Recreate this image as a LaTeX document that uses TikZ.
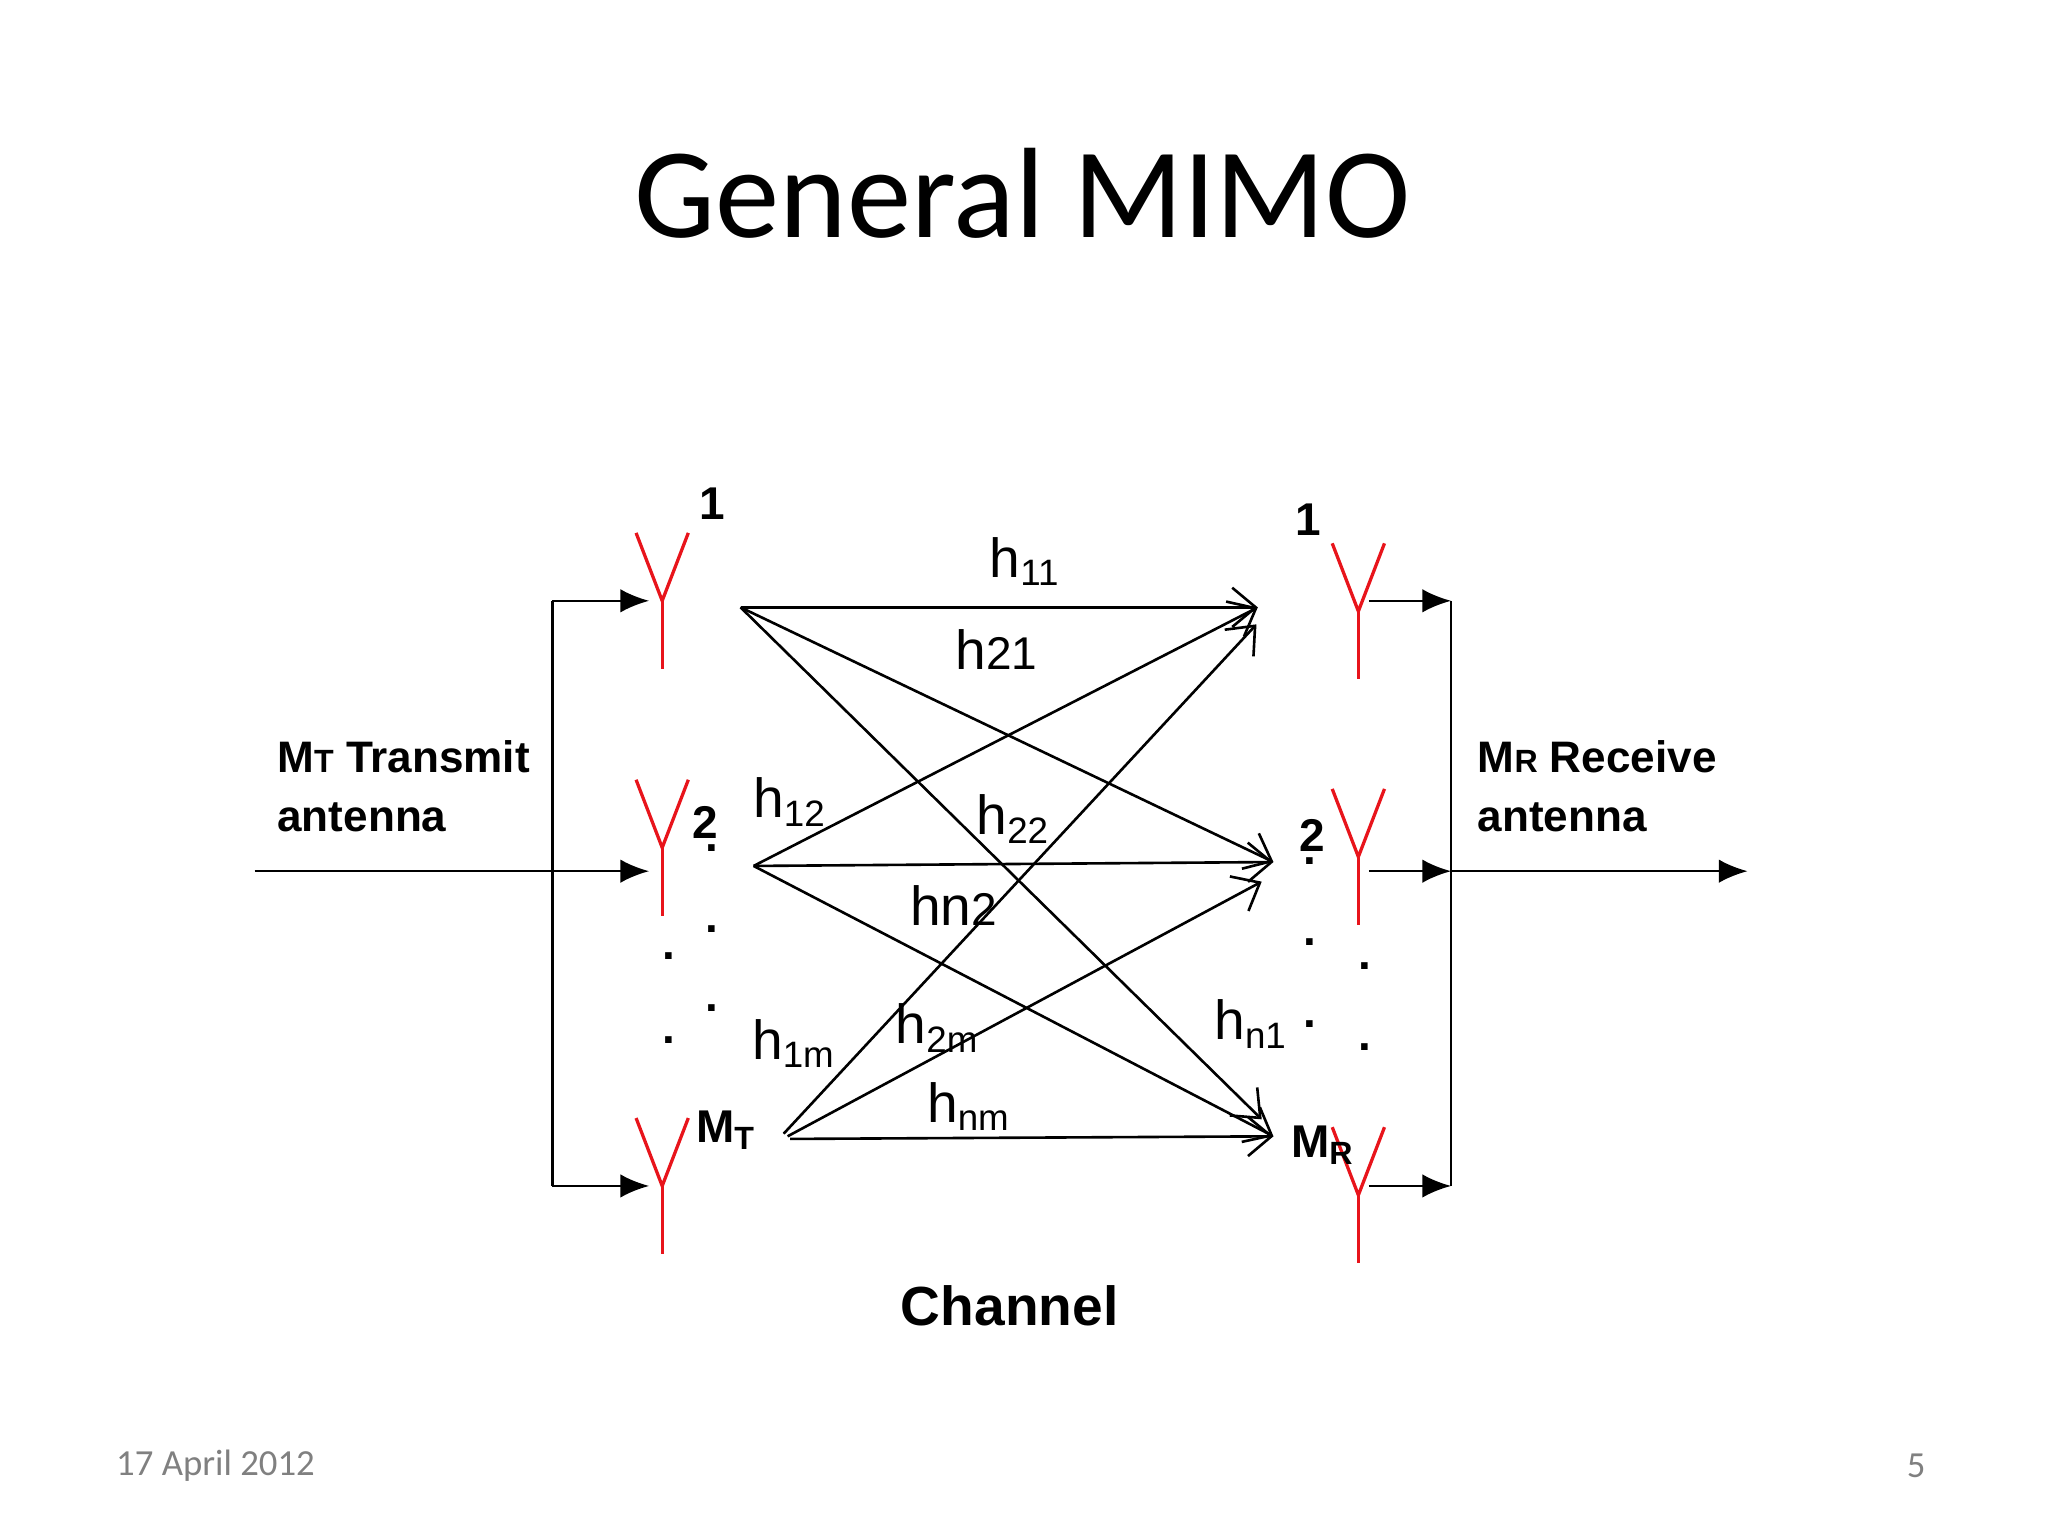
\documentclass[tikz,border=0pt]{standalone}
\usepackage{fontspec}
\setmainfont{Liberation Sans}
\newfontfamily\slidefont{Carlito}
\usetikzlibrary{arrows.meta}
\definecolor{AntRed}{HTML}{E8141B}
\tikzset{
  ant/.style={AntRed, line width=.25mm},
  feed/.style={-{Latex[length=2.2mm,width=1.8mm]}, line width=.2mm},
  chan/.style={-{Straight Barb[length=1.8mm,width=3mm]}, line width=.2mm},
  hlab/.style={font=\fontsize{12}{14}\selectfont},
  blab/.style={font=\bfseries\fontsize{9.6}{13}\selectfont, align=left},
  dot/.style={font=\bfseries\fontsize{10}{12}\selectfont}
}
\begin{document}
\begin{tikzpicture}[x=.01cm, y=-.01cm]
			\useasboundingbox (0,0) rectangle (1568,1176);
			% title and footer
			\node[font=\slidefont\fontsize{28}{32}\selectfont] (title) at (783,148) {General MIMO};
			\node[font=\slidefont\fontsize{8}{10}\selectfont, gray] (date) at (165,1122) {17 April 2012};
			\node[font=\slidefont\fontsize{8}{10}\selectfont, gray] (page) at (1467,1122) {5};

			% antenna
			\newcommand\antennasym[2]{%
				\draw[ant] (#1-20,#2-52) -- (#1,#2) -- (#1+20,#2-52);
				\draw[ant] (#1,#2) -- (#1,#2+52);
			}
			\foreach \y in {460,649,908}{
				\antennasym{507}{\y};
			}
			\foreach \y in {468,656,915}{
				\antennasym{1040}{\y};
			}

			% antenna labels
			\node[dot] (t1) at (545,386) {1};
			\node[dot] (t2) at (540,630) {2};
			\node[dot] (tm) at (556,865) {M\textsubscript{T}};
			\node[dot] (r1) at (1002,398) {1};
			\node[dot] (r2) at (1005,640) {2};
			\node[dot] (rm) at (1013,877) {M\textsubscript{R}};
			\foreach \x/\y in {545/650, 545/712, 545/773, 512/733, 512/797, 1003/660, 1003/722, 1003/785, 1045/741, 1045/803}{
				\node[dot] at (\x,\y-1) {.};
			}

			% feeds
			\coordinate (in) at (195,667);
			\coordinate (lbus) at (423,667);
			\coordinate (ltop) at (423,460);
			\coordinate (lbot) at (423,908);
			\draw[line width=.2mm] (ltop) -- (lbot);
			\draw[feed] (in) -- (497,667);
			\draw[feed] (ltop) -- (497,460);
			\draw[feed] (lbot) -- (497,908);
			\coordinate (rtop) at (1111,460);
			\coordinate (rbus) at (1111,667);
			\coordinate (rbot) at (1111,908);
			\coordinate (out) at (1338,667);
			\draw[line width=.2mm] (rtop) -- (rbot);
			\draw[feed] (1048,460) -- (rtop);
			\draw[feed] (1048,667) -- (rbus);
			\draw[feed] (1048,908) -- (rbot);
			\draw[feed] (rbus) -- (out);

			% channel
			\coordinate (s1) at (567,465);
			\coordinate (s2) at (577,663);
			\coordinate (sm) at (603,870);
			\coordinate (d1) at (963,465);
			\coordinate (d2) at (975,660);
			\coordinate (dm) at (975,870);
			\draw[chan] (s1) -- (d1);
			\draw[chan] (s1) -- (d2);
			\draw[chan] (s1) -- (966,857);
			\draw[chan] (s2) -- (d1);
			\draw[chan] (s2) -- (d2);
			\draw[chan] (s2) -- (dm);
			\draw[chan] (600,868) -- (962,478);
			\draw[chan] (sm) -- (966,675);
			\draw[chan] (605,872) -- (dm);

			\node[hlab] (h11) at (785,430) {h\textsubscript{11}};
			\node[hlab] (h21) at (763,497) {h{\fontsize{10}{12}\selectfont 21}};
			\node[hlab] (h12) at (605,614) {h\textsubscript{12}};
			\node[hlab] (h22) at (776,627) {h\textsubscript{22}};
			\node[hlab] (hn2) at (730,693) {hn{\fontsize{10}{12}\selectfont 2}};
			\node[hlab] (h1m) at (608,799) {h\textsubscript{1m}};
			\node[hlab] (h2m) at (718,787) {h\textsubscript{2m}};
			\node[hlab] (hn1) at (958,784) {h\textsubscript{n1}};
			\node[hlab] (hnm) at (742,847) {h\textsubscript{nm}};

			% side labels
			\node[blab, anchor=west] (tx) at (200,602) {M{\fontsize{7}{8}\selectfont T} Transmit\\antenna};
			\node[blab, anchor=west] (rx) at (1119,602) {M{\fontsize{7}{8}\selectfont R} Receive\\antenna};
			\node[font=\bfseries\fontsize{12}{14}\selectfont] (chl) at (773,1000) {Channel};
		\end{tikzpicture}
\end{document}
